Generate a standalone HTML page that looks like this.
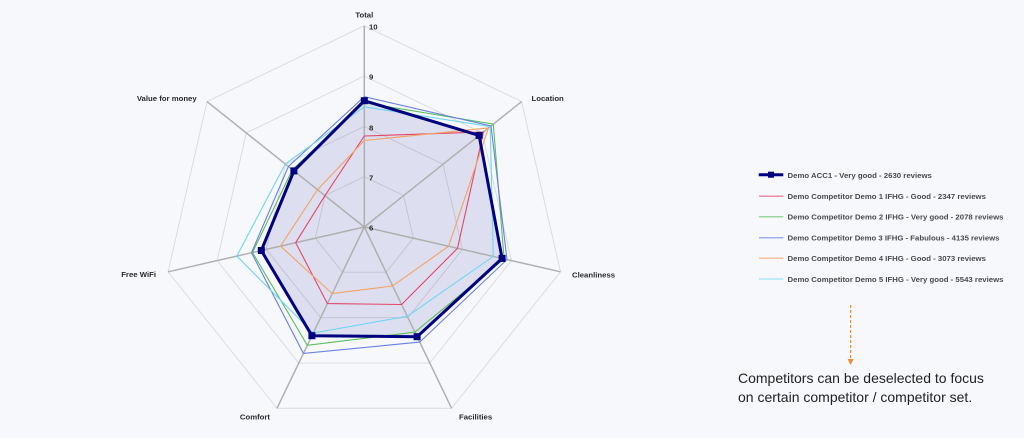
<!DOCTYPE html>
<html><head><meta charset="utf-8"><style>
html,body{margin:0;padding:0;background:#f6f8fc;}
svg{display:block;}
.lab{font-family:"Liberation Sans",Arial,sans-serif;font-weight:bold;font-size:7.75px;fill:#2a2a2a;}
.leg{font-family:"Liberation Sans",Arial,sans-serif;font-weight:bold;font-size:7.75px;fill:#4a4a4a;}
.note{font-family:"Liberation Sans",Arial,sans-serif;font-size:14px;fill:#222;}
</style></head><body>
<svg width="1024" height="438" viewBox="0 0 1024 438" xmlns="http://www.w3.org/2000/svg">
<rect width="1024" height="438" fill="#f6f8fc"/>
<!-- rings -->
<g fill="none" stroke="#dcdcdc" stroke-width="1">
<polygon points="364.3,25.8 521.6,101.6 560.5,271.8 451.6,408.3 277.0,408.3 168.1,271.8 207.0,101.6"/>
<polygon points="364.3,76.1 482.3,132.9 511.4,260.6 429.8,363.0 298.8,363.0 217.2,260.6 246.3,132.9"/>
<polygon points="364.3,126.4 443.0,164.3 462.4,249.4 407.9,317.6 320.7,317.6 266.2,249.4 285.6,164.3"/>
<polygon points="364.3,176.7 403.6,195.6 413.3,238.2 386.1,272.3 342.5,272.3 315.3,238.2 325.0,195.6"/>
</g>
<!-- navy fill -->
<polygon points="364.3,100.7 479.1,135.4 502.1,258.4 417.1,336.7 311.9,335.7 261.3,250.5 293.9,170.9" fill="#000080" fill-opacity="0.1" stroke="none"/>
<!-- spokes -->
<g stroke="#b0b0b0" stroke-width="1.5">
<line x1="364.3" y1="227" x2="364.3" y2="25.8"/>
<line x1="364.3" y1="227" x2="521.6" y2="101.6"/>
<line x1="364.3" y1="227" x2="560.5" y2="271.8"/>
<line x1="364.3" y1="227" x2="451.6" y2="408.3"/>
<line x1="364.3" y1="227" x2="277.0" y2="408.3"/>
<line x1="364.3" y1="227" x2="168.1" y2="271.8"/>
<line x1="364.3" y1="227" x2="207.0" y2="101.6"/>
</g>
<!-- series -->
<g fill="none" stroke-width="1.1" stroke-linejoin="miter">
<polygon stroke="#e2466c" points="364.3,136.0 483.5,132.0 457.5,248.3 401.6,304.5 327.4,303.6 295.7,242.7 325.0,195.6"/>
<polygon stroke="#5cbf5c" points="364.3,102.8 493.3,124.1 504.1,258.9 414.9,332.1 307.3,345.3 252.5,252.5 292.4,169.6"/>
<polygon stroke="#6b7fe3" points="364.3,96.7 491.0,126.0 507.0,259.6 419.7,342.1 303.4,353.4 251.5,252.7 288.4,166.5"/>
<polygon stroke="#f5a263" points="364.3,140.5 488.5,127.9 448.6,246.2 392.7,285.9 332.2,293.6 280.5,246.1 317.5,189.7"/>
<polygon stroke="#6fd6f2" points="364.3,106.8 490.2,126.6 493.3,256.4 407.3,316.3 313.2,333.0 236.8,256.1 285.3,164.0"/>
</g>
<polygon points="364.3,100.7 479.1,135.4 502.1,258.4 417.1,336.7 311.9,335.7 261.3,250.5 293.9,170.9" fill="none" stroke="#000080" stroke-width="3" stroke-linejoin="miter"/>
<g fill="#000080">
<rect x="360.8" y="97.2" width="7" height="7"/>
<rect x="475.6" y="131.9" width="7" height="7"/>
<rect x="498.6" y="254.9" width="7" height="7"/>
<rect x="413.6" y="333.2" width="7" height="7"/>
<rect x="308.4" y="332.2" width="7" height="7"/>
<rect x="257.8" y="247.0" width="7" height="7"/>
<rect x="290.4" y="167.4" width="7" height="7"/>
</g>
<!-- value labels -->
<g class="lab" dominant-baseline="central">
<text x="369" y="27">10</text>
<text x="369" y="77">9</text>
<text x="369" y="128">8</text>
<text x="369" y="178">7</text>
<text x="369" y="228">6</text>
</g>
<!-- category labels -->
<g class="lab" dominant-baseline="central">
<text x="364.3" y="15" text-anchor="middle">Total</text>
<text x="531.5" y="98.5">Location</text>
<text x="572" y="275">Cleanliness</text>
<text x="459" y="417">Facilities</text>
<text x="270" y="417" text-anchor="end">Comfort</text>
<text x="156" y="274.5" text-anchor="end">Free WiFi</text>
<text x="196.7" y="98.5" text-anchor="end">Value for money</text>
</g>
<!-- legend -->
<line x1="758.7" y1="174.7" x2="783.3" y2="174.7" stroke="#000080" stroke-width="3"/>
<rect x="768" y="171.7" width="6" height="6" fill="#000080"/>
<g stroke-width="1.5" stroke-opacity="0.6">
<line x1="759" y1="196.3" x2="783.3" y2="196.3" stroke="#e2466c"/>
<line x1="759" y1="216.8" x2="783.3" y2="216.8" stroke="#5cbf5c"/>
<line x1="759" y1="237.7" x2="783.3" y2="237.7" stroke="#6b7fe3"/>
<line x1="759" y1="258.3" x2="783.3" y2="258.3" stroke="#ff9a55"/>
<line x1="759" y1="279" x2="783.3" y2="279" stroke="#80dcf5"/>
</g>
<g class="leg" dominant-baseline="central">
<text x="787.5" y="175.5" textLength="144.4" lengthAdjust="spacingAndGlyphs">Demo ACC1 - Very good - 2630 reviews</text>
<text x="787.5" y="196.5" textLength="198.4" lengthAdjust="spacingAndGlyphs">Demo Competitor Demo 1 IFHG - Good - 2347 reviews</text>
<text x="787.5" y="217.2" textLength="216" lengthAdjust="spacingAndGlyphs">Demo Competitor Demo 2 IFHG - Very good - 2078 reviews</text>
<text x="787.5" y="238" textLength="212" lengthAdjust="spacingAndGlyphs">Demo Competitor Demo 3 IFHG - Fabulous - 4135 reviews</text>
<text x="787.5" y="258.6" textLength="198.4" lengthAdjust="spacingAndGlyphs">Demo Competitor Demo 4 IFHG - Good - 3073 reviews</text>
<text x="787.5" y="279.4" textLength="216" lengthAdjust="spacingAndGlyphs">Demo Competitor Demo 5 IFHG - Very good - 5543 reviews</text>
</g>
<!-- note arrow -->
<line x1="850.6" y1="305" x2="850.6" y2="360" stroke="#f08a2c" stroke-width="1.2" stroke-dasharray="3,2"/>
<polygon points="847.6,359 853.6,359 850.6,365" fill="#f08a2c"/>
<text class="note" x="738" y="383">Competitors can be deselected to focus</text>
<text class="note" x="738" y="402">on certain competitor / competitor set.</text>
</svg>
</body></html>
